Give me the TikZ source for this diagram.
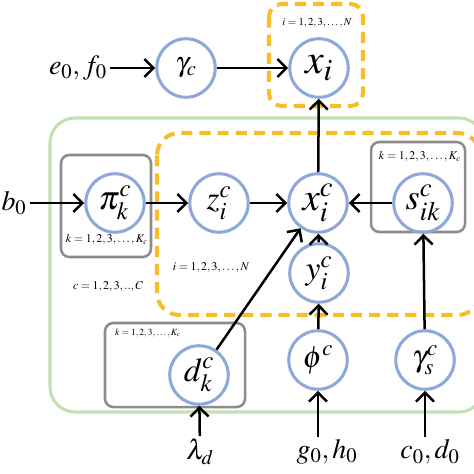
\documentclass[tikz,border=0pt]{standalone}
\usepackage{amsmath,amssymb}
\usepackage{mathptmx}
\usepackage{tikz}
\usetikzlibrary{arrows.meta}

\definecolor{circblue}{RGB}{142,168,218}
\definecolor{plateyellow}{RGB}{246,190,40}
\definecolor{plategreen}{RGB}{196,224,176}
\definecolor{plategray}{RGB}{140,140,140}

\begin{document}
\begin{tikzpicture}[x=0.718pt, y=-0.718pt,
    var/.style={circle, draw=circblue, line width=2.2pt, minimum size=42pt, inner sep=0pt},
    prior/.style={inner sep=2pt, font=\fontsize{20}{22}\selectfont},
    edge/.style={-{Straight Barb[length=6.5pt,width=13pt]}, line width=1.8pt},
    idx/.style={inner sep=0pt, font=\fontsize{8.5}{9}\selectfont}]

\clip (0,0) rectangle (474,474);

% --- PLATES ---
\draw[plategreen, line width=2.2pt, rounded corners=18pt] (50,118) rectangle (484,412);
\draw[plateyellow, line width=2.9pt, dash pattern=on 8pt off 5pt, rounded corners=16pt] (157,133) rectangle (480,315);
\draw[plateyellow, line width=2.9pt, dash pattern=on 8pt off 5pt, rounded corners=9pt] (269,4) rectangle (363,106);
\draw[plategray, line width=1.8pt, rounded corners=6pt] (61,155) rectangle (151,257);
\draw[plategray, line width=1.8pt, rounded corners=6pt] (371,142) rectangle (465,232);
\draw[plategray, line width=1.8pt, rounded corners=6pt] (105,323) rectangle (245,407);

% plate indices
\node[idx, font=\fontsize{7.7}{8}\selectfont] (iTop) at (317,23) {$i=1,2,3,\ldots,N$};
\node[idx] (kPi) at (107,240) {$k=1,2,3,\ldots,K_c$};
\node[idx] (kS) at (420,157) {$k=1,2,3,\ldots,K_c$};
\node[idx, font=\fontsize{6.8}{7}\selectfont] (kD) at (148,333) {$k=1,2,3,\ldots,K_c$};
\node[idx] (iIn) at (211,268) {$i=1,2,3,\ldots,N$};
\node[idx] (cIn) at (108,287) {$c=1,2,3,..,C$};

% --- VARIABLES ---
\node[var, font=\fontsize{20}{22}\selectfont] (gc) at (186,68) {$\gamma_c$};
\node[var, font=\fontsize{30}{32}\selectfont] (xi) at (319,68) {$x_i$};
\node[var, font=\fontsize{24}{26}\selectfont] (pi) at (115,203) {$\pi_k^c$};
\node[var, font=\fontsize{24}{26}\selectfont] (z) at (219,203) {$z_i^c$};
\node[var, font=\fontsize{28}{30}\selectfont] (xc) at (318,203) {$x_i^c$};
\node[var, font=\fontsize{26}{28}\selectfont] (s) at (423,203) {$s_{ik}^c$};
\node[var, font=\fontsize{24}{26}\selectfont] (y) at (319,273) {$y_i^c$};
\node[var, font=\fontsize{24}{26}\selectfont] (d) at (199,375) {$d_k^c$};
\node[var, font=\fontsize{22}{24}\selectfont] (phi) at (318,360) {$\phi^c$};
\node[var, font=\fontsize{22}{24}\selectfont] (gs) at (425,360) {$\gamma_s^c$};

% hyperparameters
\node[prior] (ef) at (78,68) {$e_0,f_0$};
\node[prior] (b) at (14,203) {$b_0$};
\node[prior] (lam) at (200,452) {$\lambda_d$};
\node[prior] (gh) at (327,452) {$g_0,h_0$};
\node[prior] (cd) at (430,452) {$c_0,d_0$};

% --- EDGES ---
\draw[edge] (ef) -- (gc);
\draw[edge] (gc) -- (xi);
\draw[edge] (xc) -- (xi);
\draw[edge] (b) -- (pi);
\draw[edge] (pi) -- (z);
\draw[edge] (z) -- (xc);
\draw[edge] (s) -- (xc);
\draw[edge] (y) -- (xc);
\draw[edge] (d) -- (xc);
\draw[edge] (phi) -- (y);
\draw[edge] (gs) -- (s);
\draw[edge] (lam) -- (d);
\draw[edge] (gh.north -| phi) -- (phi);
\draw[edge] (cd.north -| gs) -- (gs);

\end{tikzpicture}
\end{document}
